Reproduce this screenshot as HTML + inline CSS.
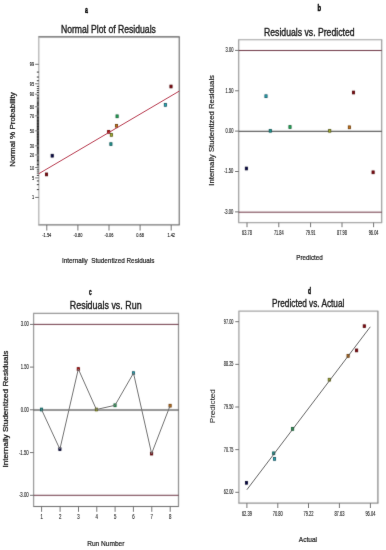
<!DOCTYPE html>
<html><head><meta charset="utf-8"><title>Residual diagnostics</title>
<style>
html,body{margin:0;padding:0;background:#fff;}
body{width:386px;height:550px;overflow:hidden;}
svg{display:block;}
text{font-family:"Liberation Sans",Arial,sans-serif;}
</style></head>
<body>
<svg width="386" height="550" viewBox="0 0 386 550">
<defs><filter id="bl" filterUnits="userSpaceOnUse" x="0" y="0" width="386" height="550" color-interpolation-filters="sRGB"><feConvolveMatrix order="3" kernelMatrix="0.0144 0.0912 0.0144 0.0912 0.5776 0.0912 0.0144 0.0912 0.0144" divisor="1" edgeMode="none" preserveAlpha="false"/></filter>
<filter id="bt" filterUnits="userSpaceOnUse" x="0" y="0" width="386" height="550" color-interpolation-filters="sRGB"><feConvolveMatrix order="3" kernelMatrix="0.0030 0.0440 0.0030 0.0540 0.7920 0.0540 0.0030 0.0440 0.0030" divisor="1" edgeMode="none" preserveAlpha="false"/></filter></defs>
<rect width="386" height="550" fill="#fff"/>
<g filter="url(#bl)">
<line x1="38.30" y1="36.90" x2="179.75" y2="36.90" stroke="#595959" stroke-width="1.2"/>
<line x1="38.30" y1="224.90" x2="179.75" y2="224.90" stroke="#747474" stroke-width="1.2"/>
<line x1="38.80" y1="36.90" x2="38.80" y2="224.90" stroke="#acacac" stroke-width="1.2"/>
<line x1="179.25" y1="36.90" x2="179.25" y2="224.90" stroke="#737373" stroke-width="1.2"/>
<rect x="45.40" y="173.00" width="2.2" height="2.8" fill="#900010" stroke="#480000" stroke-width="0.8"/>
<rect x="51.10" y="154.30" width="2.2" height="2.8" fill="#000050" stroke="#000020" stroke-width="0.8"/>
<rect x="107.60" y="130.40" width="2.2" height="2.8" fill="#c01010" stroke="#600000" stroke-width="0.8"/>
<rect x="110.30" y="133.50" width="2.2" height="2.8" fill="#b0c030" stroke="#505010" stroke-width="0.8"/>
<rect x="109.80" y="142.70" width="2.2" height="2.8" fill="#20a098" stroke="#0a5050" stroke-width="0.8"/>
<rect x="115.40" y="124.40" width="2.2" height="2.8" fill="#e08010" stroke="#603000" stroke-width="0.8"/>
<rect x="116.00" y="114.90" width="2.2" height="2.8" fill="#20c060" stroke="#0a5028" stroke-width="0.8"/>
<rect x="164.30" y="103.50" width="2.2" height="2.8" fill="#20c0c8" stroke="#104858" stroke-width="0.8"/>
<rect x="169.90" y="85.10" width="2.2" height="2.8" fill="#900010" stroke="#480000" stroke-width="0.8"/>
<line x1="238.20" y1="39.75" x2="382.20" y2="39.75" stroke="#9d9d9d" stroke-width="1.2"/>
<line x1="238.20" y1="222.60" x2="382.20" y2="222.60" stroke="#a5a5a5" stroke-width="1.2"/>
<line x1="238.70" y1="39.75" x2="238.70" y2="222.60" stroke="#989898" stroke-width="1.2"/>
<line x1="381.70" y1="39.75" x2="381.70" y2="222.60" stroke="#989898" stroke-width="1.2"/>
<line x1="238.70" y1="50.50" x2="381.70" y2="50.50" stroke="#5a1c2c" stroke-width="0.9"/>
<line x1="238.70" y1="212.20" x2="381.70" y2="212.20" stroke="#5a1c2c" stroke-width="0.9"/>
<line x1="238.70" y1="131.30" x2="381.70" y2="131.30" stroke="#383838" stroke-width="1.0"/>
<rect x="245.30" y="167.10" width="2.2" height="2.8" fill="#000050" stroke="#000020" stroke-width="0.8"/>
<rect x="264.90" y="94.80" width="2.2" height="2.8" fill="#20c0c8" stroke="#104858" stroke-width="0.8"/>
<rect x="269.20" y="129.40" width="2.2" height="2.8" fill="#20a098" stroke="#0a5050" stroke-width="0.8"/>
<rect x="288.90" y="125.60" width="2.2" height="2.8" fill="#20c060" stroke="#0a5028" stroke-width="0.8"/>
<rect x="328.60" y="129.40" width="2.2" height="2.8" fill="#b0c030" stroke="#505010" stroke-width="0.8"/>
<rect x="348.30" y="125.90" width="2.2" height="2.8" fill="#e08010" stroke="#603000" stroke-width="0.8"/>
<rect x="352.40" y="91.10" width="2.2" height="2.8" fill="#900010" stroke="#480000" stroke-width="0.8"/>
<rect x="372.00" y="170.90" width="2.2" height="2.8" fill="#900010" stroke="#480000" stroke-width="0.8"/>
<line x1="33.10" y1="313.40" x2="179.00" y2="313.40" stroke="#969696" stroke-width="1.2"/>
<line x1="33.10" y1="506.50" x2="179.00" y2="506.50" stroke="#696969" stroke-width="1.2"/>
<line x1="33.60" y1="313.40" x2="33.60" y2="506.50" stroke="#979797" stroke-width="1.2"/>
<line x1="178.50" y1="313.40" x2="178.50" y2="506.50" stroke="#8c8c8c" stroke-width="1.2"/>
<line x1="33.60" y1="324.40" x2="178.50" y2="324.40" stroke="#5a1c2c" stroke-width="0.9"/>
<line x1="33.60" y1="495.30" x2="178.50" y2="495.30" stroke="#5a1c2c" stroke-width="0.9"/>
<line x1="33.60" y1="410.00" x2="178.50" y2="410.00" stroke="#2a2a2a" stroke-width="1.0"/>
<rect x="40.40" y="408.10" width="2.2" height="2.8" fill="#20a098" stroke="#0a5050" stroke-width="0.8"/>
<rect x="58.80" y="447.80" width="2.2" height="2.8" fill="#000050" stroke="#000020" stroke-width="0.8"/>
<rect x="77.20" y="367.60" width="2.2" height="2.8" fill="#c01010" stroke="#600000" stroke-width="0.8"/>
<rect x="95.30" y="408.10" width="2.2" height="2.8" fill="#b0c030" stroke="#505010" stroke-width="0.8"/>
<rect x="113.90" y="403.90" width="2.2" height="2.8" fill="#20c060" stroke="#0a5028" stroke-width="0.8"/>
<rect x="132.40" y="371.70" width="2.2" height="2.8" fill="#20c0c8" stroke="#104858" stroke-width="0.8"/>
<rect x="150.50" y="452.20" width="2.2" height="2.8" fill="#900010" stroke="#480000" stroke-width="0.8"/>
<rect x="169.00" y="404.30" width="2.2" height="2.8" fill="#e08010" stroke="#603000" stroke-width="0.8"/>
<line x1="238.40" y1="311.20" x2="378.40" y2="311.20" stroke="#a3a3a3" stroke-width="1.2"/>
<line x1="238.40" y1="503.20" x2="378.40" y2="503.20" stroke="#919191" stroke-width="1.2"/>
<line x1="238.90" y1="311.20" x2="238.90" y2="503.20" stroke="#9a9a9a" stroke-width="1.2"/>
<line x1="377.90" y1="311.20" x2="377.90" y2="503.20" stroke="#828282" stroke-width="1.2"/>
<rect x="245.40" y="481.40" width="2.2" height="2.8" fill="#000050" stroke="#000020" stroke-width="0.8"/>
<rect x="272.60" y="451.90" width="2.2" height="2.8" fill="#20a098" stroke="#0a5050" stroke-width="0.8"/>
<rect x="273.40" y="457.50" width="2.2" height="2.8" fill="#20c0c8" stroke="#104858" stroke-width="0.8"/>
<rect x="291.50" y="427.50" width="2.2" height="2.8" fill="#20c060" stroke="#0a5028" stroke-width="0.8"/>
<rect x="328.20" y="378.30" width="2.2" height="2.8" fill="#b0c030" stroke="#505010" stroke-width="0.8"/>
<rect x="347.00" y="354.50" width="2.2" height="2.8" fill="#e08010" stroke="#603000" stroke-width="0.8"/>
<rect x="355.50" y="349.00" width="2.2" height="2.8" fill="#900010" stroke="#480000" stroke-width="0.8"/>
<rect x="363.20" y="324.80" width="2.2" height="2.8" fill="#900010" stroke="#480000" stroke-width="0.8"/>
</g>
<g filter="url(#bt)">
<text x="86.50" y="13.10" font-size="9.5" text-anchor="middle" fill="#000" stroke="#000" stroke-width="0.5" font-weight="bold" textLength="2.9" lengthAdjust="spacingAndGlyphs">a</text>
<text x="108.40" y="32.60" font-size="10.2" text-anchor="middle" fill="#1a1a1a" stroke="#1a1a1a" stroke-width="0.35" textLength="95.0" lengthAdjust="spacingAndGlyphs">Normal Plot of Residuals</text>
<line x1="35.20" y1="197.41" x2="38.80" y2="197.41" stroke="#696969" stroke-width="0.9"/>
<text x="34.20" y="199.41" font-size="6.0" text-anchor="end" fill="#262626" stroke="#262626" stroke-width="0.15" textLength="2.2" lengthAdjust="spacingAndGlyphs">1</text>
<line x1="36.80" y1="189.61" x2="38.80" y2="189.61" stroke="#0f0f0f" stroke-width="0.8"/>
<line x1="36.80" y1="184.66" x2="38.80" y2="184.66" stroke="#0f0f0f" stroke-width="0.8"/>
<line x1="36.80" y1="180.94" x2="38.80" y2="180.94" stroke="#0f0f0f" stroke-width="0.8"/>
<line x1="35.20" y1="177.91" x2="38.80" y2="177.91" stroke="#696969" stroke-width="0.9"/>
<text x="34.20" y="179.91" font-size="6.0" text-anchor="end" fill="#262626" stroke="#262626" stroke-width="0.15" textLength="2.2" lengthAdjust="spacingAndGlyphs">5</text>
<line x1="36.80" y1="175.33" x2="38.80" y2="175.33" stroke="#0f0f0f" stroke-width="0.8"/>
<line x1="36.80" y1="173.07" x2="38.80" y2="173.07" stroke="#0f0f0f" stroke-width="0.8"/>
<line x1="36.80" y1="171.05" x2="38.80" y2="171.05" stroke="#0f0f0f" stroke-width="0.8"/>
<line x1="36.80" y1="169.21" x2="38.80" y2="169.21" stroke="#0f0f0f" stroke-width="0.8"/>
<line x1="35.20" y1="167.52" x2="38.80" y2="167.52" stroke="#696969" stroke-width="0.9"/>
<text x="34.20" y="169.52" font-size="6.0" text-anchor="end" fill="#262626" stroke="#262626" stroke-width="0.15" textLength="4.4" lengthAdjust="spacingAndGlyphs">10</text>
<line x1="36.80" y1="165.94" x2="38.80" y2="165.94" stroke="#0f0f0f" stroke-width="0.8"/>
<line x1="36.80" y1="164.47" x2="38.80" y2="164.47" stroke="#0f0f0f" stroke-width="0.8"/>
<line x1="36.80" y1="163.08" x2="38.80" y2="163.08" stroke="#0f0f0f" stroke-width="0.8"/>
<line x1="36.80" y1="161.76" x2="38.80" y2="161.76" stroke="#0f0f0f" stroke-width="0.8"/>
<line x1="36.80" y1="160.50" x2="38.80" y2="160.50" stroke="#0f0f0f" stroke-width="0.8"/>
<line x1="36.80" y1="159.30" x2="38.80" y2="159.30" stroke="#0f0f0f" stroke-width="0.8"/>
<line x1="36.80" y1="158.15" x2="38.80" y2="158.15" stroke="#0f0f0f" stroke-width="0.8"/>
<line x1="36.80" y1="157.04" x2="38.80" y2="157.04" stroke="#0f0f0f" stroke-width="0.8"/>
<line x1="36.80" y1="155.97" x2="38.80" y2="155.97" stroke="#0f0f0f" stroke-width="0.8"/>
<line x1="35.20" y1="154.93" x2="38.80" y2="154.93" stroke="#696969" stroke-width="0.9"/>
<text x="34.20" y="156.93" font-size="6.0" text-anchor="end" fill="#262626" stroke="#262626" stroke-width="0.15" textLength="4.4" lengthAdjust="spacingAndGlyphs">20</text>
<line x1="36.80" y1="153.92" x2="38.80" y2="153.92" stroke="#0f0f0f" stroke-width="0.8"/>
<line x1="36.80" y1="152.94" x2="38.80" y2="152.94" stroke="#0f0f0f" stroke-width="0.8"/>
<line x1="36.80" y1="151.99" x2="38.80" y2="151.99" stroke="#0f0f0f" stroke-width="0.8"/>
<line x1="36.80" y1="151.06" x2="38.80" y2="151.06" stroke="#0f0f0f" stroke-width="0.8"/>
<line x1="36.80" y1="150.15" x2="38.80" y2="150.15" stroke="#0f0f0f" stroke-width="0.8"/>
<line x1="36.80" y1="149.26" x2="38.80" y2="149.26" stroke="#0f0f0f" stroke-width="0.8"/>
<line x1="36.80" y1="148.38" x2="38.80" y2="148.38" stroke="#0f0f0f" stroke-width="0.8"/>
<line x1="36.80" y1="147.53" x2="38.80" y2="147.53" stroke="#0f0f0f" stroke-width="0.8"/>
<line x1="36.80" y1="146.68" x2="38.80" y2="146.68" stroke="#0f0f0f" stroke-width="0.8"/>
<line x1="35.20" y1="145.85" x2="38.80" y2="145.85" stroke="#696969" stroke-width="0.9"/>
<text x="34.20" y="147.85" font-size="6.0" text-anchor="end" fill="#262626" stroke="#262626" stroke-width="0.15" textLength="4.4" lengthAdjust="spacingAndGlyphs">30</text>
<line x1="36.80" y1="145.04" x2="38.80" y2="145.04" stroke="#0f0f0f" stroke-width="0.8"/>
<line x1="36.80" y1="144.23" x2="38.80" y2="144.23" stroke="#0f0f0f" stroke-width="0.8"/>
<line x1="36.80" y1="143.44" x2="38.80" y2="143.44" stroke="#0f0f0f" stroke-width="0.8"/>
<line x1="36.80" y1="142.65" x2="38.80" y2="142.65" stroke="#0f0f0f" stroke-width="0.8"/>
<line x1="36.80" y1="141.87" x2="38.80" y2="141.87" stroke="#0f0f0f" stroke-width="0.8"/>
<line x1="36.80" y1="141.11" x2="38.80" y2="141.11" stroke="#0f0f0f" stroke-width="0.8"/>
<line x1="36.80" y1="140.34" x2="38.80" y2="140.34" stroke="#0f0f0f" stroke-width="0.8"/>
<line x1="36.80" y1="139.59" x2="38.80" y2="139.59" stroke="#0f0f0f" stroke-width="0.8"/>
<line x1="36.80" y1="138.84" x2="38.80" y2="138.84" stroke="#0f0f0f" stroke-width="0.8"/>
<line x1="36.80" y1="138.10" x2="38.80" y2="138.10" stroke="#0f0f0f" stroke-width="0.8"/>
<line x1="36.80" y1="137.36" x2="38.80" y2="137.36" stroke="#0f0f0f" stroke-width="0.8"/>
<line x1="36.80" y1="136.63" x2="38.80" y2="136.63" stroke="#0f0f0f" stroke-width="0.8"/>
<line x1="36.80" y1="135.90" x2="38.80" y2="135.90" stroke="#0f0f0f" stroke-width="0.8"/>
<line x1="36.80" y1="135.17" x2="38.80" y2="135.17" stroke="#0f0f0f" stroke-width="0.8"/>
<line x1="36.80" y1="134.45" x2="38.80" y2="134.45" stroke="#0f0f0f" stroke-width="0.8"/>
<line x1="36.80" y1="133.72" x2="38.80" y2="133.72" stroke="#0f0f0f" stroke-width="0.8"/>
<line x1="36.80" y1="133.00" x2="38.80" y2="133.00" stroke="#0f0f0f" stroke-width="0.8"/>
<line x1="36.80" y1="132.28" x2="38.80" y2="132.28" stroke="#0f0f0f" stroke-width="0.8"/>
<line x1="36.80" y1="131.57" x2="38.80" y2="131.57" stroke="#0f0f0f" stroke-width="0.8"/>
<line x1="35.20" y1="130.85" x2="38.80" y2="130.85" stroke="#696969" stroke-width="0.9"/>
<text x="34.20" y="132.85" font-size="6.0" text-anchor="end" fill="#262626" stroke="#262626" stroke-width="0.15" textLength="4.4" lengthAdjust="spacingAndGlyphs">50</text>
<line x1="36.80" y1="130.13" x2="38.80" y2="130.13" stroke="#0f0f0f" stroke-width="0.8"/>
<line x1="36.80" y1="129.42" x2="38.80" y2="129.42" stroke="#0f0f0f" stroke-width="0.8"/>
<line x1="36.80" y1="128.70" x2="38.80" y2="128.70" stroke="#0f0f0f" stroke-width="0.8"/>
<line x1="36.80" y1="127.98" x2="38.80" y2="127.98" stroke="#0f0f0f" stroke-width="0.8"/>
<line x1="36.80" y1="127.25" x2="38.80" y2="127.25" stroke="#0f0f0f" stroke-width="0.8"/>
<line x1="36.80" y1="126.53" x2="38.80" y2="126.53" stroke="#0f0f0f" stroke-width="0.8"/>
<line x1="36.80" y1="125.80" x2="38.80" y2="125.80" stroke="#0f0f0f" stroke-width="0.8"/>
<line x1="36.80" y1="125.07" x2="38.80" y2="125.07" stroke="#0f0f0f" stroke-width="0.8"/>
<line x1="36.80" y1="124.34" x2="38.80" y2="124.34" stroke="#0f0f0f" stroke-width="0.8"/>
<line x1="36.80" y1="123.60" x2="38.80" y2="123.60" stroke="#0f0f0f" stroke-width="0.8"/>
<line x1="36.80" y1="122.86" x2="38.80" y2="122.86" stroke="#0f0f0f" stroke-width="0.8"/>
<line x1="36.80" y1="122.11" x2="38.80" y2="122.11" stroke="#0f0f0f" stroke-width="0.8"/>
<line x1="36.80" y1="121.36" x2="38.80" y2="121.36" stroke="#0f0f0f" stroke-width="0.8"/>
<line x1="36.80" y1="120.59" x2="38.80" y2="120.59" stroke="#0f0f0f" stroke-width="0.8"/>
<line x1="36.80" y1="119.83" x2="38.80" y2="119.83" stroke="#0f0f0f" stroke-width="0.8"/>
<line x1="36.80" y1="119.05" x2="38.80" y2="119.05" stroke="#0f0f0f" stroke-width="0.8"/>
<line x1="36.80" y1="118.26" x2="38.80" y2="118.26" stroke="#0f0f0f" stroke-width="0.8"/>
<line x1="36.80" y1="117.47" x2="38.80" y2="117.47" stroke="#0f0f0f" stroke-width="0.8"/>
<line x1="36.80" y1="116.66" x2="38.80" y2="116.66" stroke="#0f0f0f" stroke-width="0.8"/>
<line x1="35.20" y1="115.85" x2="38.80" y2="115.85" stroke="#696969" stroke-width="0.9"/>
<text x="34.20" y="117.85" font-size="6.0" text-anchor="end" fill="#262626" stroke="#262626" stroke-width="0.15" textLength="4.4" lengthAdjust="spacingAndGlyphs">70</text>
<line x1="36.80" y1="115.02" x2="38.80" y2="115.02" stroke="#0f0f0f" stroke-width="0.8"/>
<line x1="36.80" y1="114.17" x2="38.80" y2="114.17" stroke="#0f0f0f" stroke-width="0.8"/>
<line x1="36.80" y1="113.32" x2="38.80" y2="113.32" stroke="#0f0f0f" stroke-width="0.8"/>
<line x1="36.80" y1="112.44" x2="38.80" y2="112.44" stroke="#0f0f0f" stroke-width="0.8"/>
<line x1="36.80" y1="111.55" x2="38.80" y2="111.55" stroke="#0f0f0f" stroke-width="0.8"/>
<line x1="36.80" y1="110.64" x2="38.80" y2="110.64" stroke="#0f0f0f" stroke-width="0.8"/>
<line x1="36.80" y1="109.71" x2="38.80" y2="109.71" stroke="#0f0f0f" stroke-width="0.8"/>
<line x1="36.80" y1="108.76" x2="38.80" y2="108.76" stroke="#0f0f0f" stroke-width="0.8"/>
<line x1="36.80" y1="107.78" x2="38.80" y2="107.78" stroke="#0f0f0f" stroke-width="0.8"/>
<line x1="35.20" y1="106.77" x2="38.80" y2="106.77" stroke="#696969" stroke-width="0.9"/>
<text x="34.20" y="108.77" font-size="6.0" text-anchor="end" fill="#262626" stroke="#262626" stroke-width="0.15" textLength="4.4" lengthAdjust="spacingAndGlyphs">80</text>
<line x1="36.80" y1="105.73" x2="38.80" y2="105.73" stroke="#0f0f0f" stroke-width="0.8"/>
<line x1="36.80" y1="104.66" x2="38.80" y2="104.66" stroke="#0f0f0f" stroke-width="0.8"/>
<line x1="36.80" y1="103.55" x2="38.80" y2="103.55" stroke="#0f0f0f" stroke-width="0.8"/>
<line x1="36.80" y1="102.40" x2="38.80" y2="102.40" stroke="#0f0f0f" stroke-width="0.8"/>
<line x1="36.80" y1="101.20" x2="38.80" y2="101.20" stroke="#0f0f0f" stroke-width="0.8"/>
<line x1="36.80" y1="99.94" x2="38.80" y2="99.94" stroke="#0f0f0f" stroke-width="0.8"/>
<line x1="36.80" y1="98.62" x2="38.80" y2="98.62" stroke="#0f0f0f" stroke-width="0.8"/>
<line x1="36.80" y1="97.23" x2="38.80" y2="97.23" stroke="#0f0f0f" stroke-width="0.8"/>
<line x1="36.80" y1="95.76" x2="38.80" y2="95.76" stroke="#0f0f0f" stroke-width="0.8"/>
<line x1="35.20" y1="94.18" x2="38.80" y2="94.18" stroke="#696969" stroke-width="0.9"/>
<text x="34.20" y="96.18" font-size="6.0" text-anchor="end" fill="#262626" stroke="#262626" stroke-width="0.15" textLength="4.4" lengthAdjust="spacingAndGlyphs">90</text>
<line x1="36.80" y1="92.49" x2="38.80" y2="92.49" stroke="#0f0f0f" stroke-width="0.8"/>
<line x1="36.80" y1="90.65" x2="38.80" y2="90.65" stroke="#0f0f0f" stroke-width="0.8"/>
<line x1="36.80" y1="88.63" x2="38.80" y2="88.63" stroke="#0f0f0f" stroke-width="0.8"/>
<line x1="36.80" y1="86.37" x2="38.80" y2="86.37" stroke="#0f0f0f" stroke-width="0.8"/>
<line x1="35.20" y1="83.79" x2="38.80" y2="83.79" stroke="#696969" stroke-width="0.9"/>
<text x="34.20" y="85.79" font-size="6.0" text-anchor="end" fill="#262626" stroke="#262626" stroke-width="0.15" textLength="4.4" lengthAdjust="spacingAndGlyphs">95</text>
<line x1="36.80" y1="80.76" x2="38.80" y2="80.76" stroke="#0f0f0f" stroke-width="0.8"/>
<line x1="36.80" y1="77.04" x2="38.80" y2="77.04" stroke="#0f0f0f" stroke-width="0.8"/>
<line x1="36.80" y1="72.09" x2="38.80" y2="72.09" stroke="#0f0f0f" stroke-width="0.8"/>
<line x1="35.20" y1="64.29" x2="38.80" y2="64.29" stroke="#696969" stroke-width="0.9"/>
<text x="34.20" y="66.29" font-size="6.0" text-anchor="end" fill="#262626" stroke="#262626" stroke-width="0.15" textLength="4.4" lengthAdjust="spacingAndGlyphs">99</text>
<line x1="46.80" y1="224.90" x2="46.80" y2="230.50" stroke="#696969" stroke-width="0.9"/>
<text x="46.80" y="237.10" font-size="6.0" text-anchor="middle" fill="#262626" stroke="#262626" stroke-width="0.15" textLength="9.0" lengthAdjust="spacingAndGlyphs">-1.54</text>
<line x1="77.90" y1="224.90" x2="77.90" y2="230.50" stroke="#696969" stroke-width="0.9"/>
<text x="77.90" y="237.10" font-size="6.0" text-anchor="middle" fill="#262626" stroke="#262626" stroke-width="0.15" textLength="9.0" lengthAdjust="spacingAndGlyphs">-0.80</text>
<line x1="109.00" y1="224.90" x2="109.00" y2="230.50" stroke="#696969" stroke-width="0.9"/>
<text x="109.00" y="237.10" font-size="6.0" text-anchor="middle" fill="#262626" stroke="#262626" stroke-width="0.15" textLength="9.0" lengthAdjust="spacingAndGlyphs">-0.06</text>
<line x1="140.10" y1="224.90" x2="140.10" y2="230.50" stroke="#696969" stroke-width="0.9"/>
<text x="140.10" y="237.10" font-size="6.0" text-anchor="middle" fill="#262626" stroke="#262626" stroke-width="0.15" textLength="7.6" lengthAdjust="spacingAndGlyphs">0.68</text>
<line x1="171.20" y1="224.90" x2="171.20" y2="230.50" stroke="#696969" stroke-width="0.9"/>
<text x="171.20" y="237.10" font-size="6.0" text-anchor="middle" fill="#262626" stroke="#262626" stroke-width="0.15" textLength="7.6" lengthAdjust="spacingAndGlyphs">1.42</text>
<line x1="38.80" y1="173.7" x2="179.25" y2="91.1" stroke="#b83c50" stroke-width="1.0"/>
<text transform="translate(14.60,129.60) scale(0.85,1) rotate(-90)" font-size="7.6" text-anchor="middle" fill="#1a1a1a" stroke="#1a1a1a" stroke-width="0.3" textLength="74.5" lengthAdjust="spacingAndGlyphs">Normal % Probability</text>
<text x="108.20" y="263.20" font-size="8.0" text-anchor="middle" fill="#1a1a1a" stroke="#1a1a1a" stroke-width="0.22" textLength="92.4" lengthAdjust="spacingAndGlyphs">Internally&#160; Studentized Residuals</text>
<text x="319.20" y="11.20" font-size="9.5" text-anchor="middle" fill="#000" stroke="#000" stroke-width="0.5" font-weight="bold" textLength="3.6" lengthAdjust="spacingAndGlyphs">b</text>
<text x="309.30" y="35.70" font-size="10.0" text-anchor="middle" fill="#1a1a1a" stroke="#1a1a1a" stroke-width="0.35" textLength="90.5" lengthAdjust="spacingAndGlyphs">Residuals vs. Predicted</text>
<line x1="235.10" y1="50.40" x2="238.70" y2="50.40" stroke="#696969" stroke-width="0.9"/>
<text x="233.40" y="52.20" font-size="6.6" text-anchor="end" fill="#262626" stroke="#262626" stroke-width="0.15" textLength="7.8" lengthAdjust="spacingAndGlyphs">3.00</text>
<line x1="235.10" y1="90.80" x2="238.70" y2="90.80" stroke="#696969" stroke-width="0.9"/>
<text x="233.40" y="92.60" font-size="6.6" text-anchor="end" fill="#262626" stroke="#262626" stroke-width="0.15" textLength="7.8" lengthAdjust="spacingAndGlyphs">1.50</text>
<line x1="235.10" y1="131.10" x2="238.70" y2="131.10" stroke="#696969" stroke-width="0.9"/>
<text x="233.40" y="132.90" font-size="6.6" text-anchor="end" fill="#262626" stroke="#262626" stroke-width="0.15" textLength="7.8" lengthAdjust="spacingAndGlyphs">0.00</text>
<line x1="235.10" y1="171.50" x2="238.70" y2="171.50" stroke="#696969" stroke-width="0.9"/>
<text x="233.40" y="173.30" font-size="6.6" text-anchor="end" fill="#262626" stroke="#262626" stroke-width="0.15" textLength="9.4" lengthAdjust="spacingAndGlyphs">-1.50</text>
<line x1="235.10" y1="211.90" x2="238.70" y2="211.90" stroke="#696969" stroke-width="0.9"/>
<text x="233.40" y="213.70" font-size="6.6" text-anchor="end" fill="#262626" stroke="#262626" stroke-width="0.15" textLength="9.4" lengthAdjust="spacingAndGlyphs">-3.00</text>
<line x1="247.00" y1="222.60" x2="247.00" y2="227.20" stroke="#696969" stroke-width="0.9"/>
<text x="247.00" y="234.50" font-size="6.6" text-anchor="middle" fill="#262626" stroke="#262626" stroke-width="0.15" textLength="9.8" lengthAdjust="spacingAndGlyphs">63.78</text>
<line x1="278.80" y1="222.60" x2="278.80" y2="227.20" stroke="#696969" stroke-width="0.9"/>
<text x="278.80" y="234.50" font-size="6.6" text-anchor="middle" fill="#262626" stroke="#262626" stroke-width="0.15" textLength="9.8" lengthAdjust="spacingAndGlyphs">71.84</text>
<line x1="310.60" y1="222.60" x2="310.60" y2="227.20" stroke="#696969" stroke-width="0.9"/>
<text x="310.60" y="234.50" font-size="6.6" text-anchor="middle" fill="#262626" stroke="#262626" stroke-width="0.15" textLength="9.8" lengthAdjust="spacingAndGlyphs">79.91</text>
<line x1="342.00" y1="222.60" x2="342.00" y2="227.20" stroke="#696969" stroke-width="0.9"/>
<text x="342.00" y="234.50" font-size="6.6" text-anchor="middle" fill="#262626" stroke="#262626" stroke-width="0.15" textLength="9.8" lengthAdjust="spacingAndGlyphs">87.98</text>
<line x1="373.60" y1="222.60" x2="373.60" y2="227.20" stroke="#696969" stroke-width="0.9"/>
<text x="373.60" y="234.50" font-size="6.6" text-anchor="middle" fill="#262626" stroke="#262626" stroke-width="0.15" textLength="9.8" lengthAdjust="spacingAndGlyphs">96.04</text>
<text transform="translate(214.40,130.35) scale(0.85,1) rotate(-90)" font-size="7.6" text-anchor="middle" fill="#1a1a1a" stroke="#1a1a1a" stroke-width="0.2" textLength="110.7" lengthAdjust="spacingAndGlyphs">Internally Studentized Residuals</text>
<text x="309.50" y="259.80" font-size="8.0" text-anchor="middle" fill="#1a1a1a" stroke="#1a1a1a" stroke-width="0.22" textLength="26.5" lengthAdjust="spacingAndGlyphs">Predicted</text>
<text x="90.40" y="294.70" font-size="9.5" text-anchor="middle" fill="#000" stroke="#000" stroke-width="0.5" font-weight="bold" textLength="2.6" lengthAdjust="spacingAndGlyphs">c</text>
<text x="105.70" y="308.80" font-size="10.0" text-anchor="middle" fill="#1a1a1a" stroke="#1a1a1a" stroke-width="0.35" textLength="71.8" lengthAdjust="spacingAndGlyphs">Residuals vs. Run</text>
<line x1="30.00" y1="324.40" x2="33.60" y2="324.40" stroke="#696969" stroke-width="0.9"/>
<text x="28.70" y="326.30" font-size="6.8" text-anchor="end" fill="#262626" stroke="#262626" stroke-width="0.15" textLength="7.9" lengthAdjust="spacingAndGlyphs">3.00</text>
<line x1="30.00" y1="367.10" x2="33.60" y2="367.10" stroke="#696969" stroke-width="0.9"/>
<text x="28.70" y="369.00" font-size="6.8" text-anchor="end" fill="#262626" stroke="#262626" stroke-width="0.15" textLength="7.9" lengthAdjust="spacingAndGlyphs">1.50</text>
<line x1="30.00" y1="409.80" x2="33.60" y2="409.80" stroke="#696969" stroke-width="0.9"/>
<text x="28.70" y="411.70" font-size="6.8" text-anchor="end" fill="#262626" stroke="#262626" stroke-width="0.15" textLength="7.9" lengthAdjust="spacingAndGlyphs">0.00</text>
<line x1="30.00" y1="452.60" x2="33.60" y2="452.60" stroke="#696969" stroke-width="0.9"/>
<text x="28.70" y="454.50" font-size="6.8" text-anchor="end" fill="#262626" stroke="#262626" stroke-width="0.15" textLength="9.8" lengthAdjust="spacingAndGlyphs">-1.50</text>
<line x1="30.00" y1="495.30" x2="33.60" y2="495.30" stroke="#696969" stroke-width="0.9"/>
<text x="28.70" y="497.20" font-size="6.8" text-anchor="end" fill="#262626" stroke="#262626" stroke-width="0.15" textLength="9.8" lengthAdjust="spacingAndGlyphs">-3.00</text>
<line x1="41.60" y1="506.50" x2="41.60" y2="511.80" stroke="#696969" stroke-width="0.9"/>
<text x="41.60" y="518.90" font-size="6.4" text-anchor="middle" fill="#262626" stroke="#262626" stroke-width="0.15" textLength="2.4" lengthAdjust="spacingAndGlyphs">1</text>
<line x1="60.10" y1="506.50" x2="60.10" y2="511.80" stroke="#696969" stroke-width="0.9"/>
<text x="60.10" y="518.90" font-size="6.4" text-anchor="middle" fill="#262626" stroke="#262626" stroke-width="0.15" textLength="2.4" lengthAdjust="spacingAndGlyphs">2</text>
<line x1="78.50" y1="506.50" x2="78.50" y2="511.80" stroke="#696969" stroke-width="0.9"/>
<text x="78.50" y="518.90" font-size="6.4" text-anchor="middle" fill="#262626" stroke="#262626" stroke-width="0.15" textLength="2.4" lengthAdjust="spacingAndGlyphs">3</text>
<line x1="96.80" y1="506.50" x2="96.80" y2="511.80" stroke="#696969" stroke-width="0.9"/>
<text x="96.80" y="518.90" font-size="6.4" text-anchor="middle" fill="#262626" stroke="#262626" stroke-width="0.15" textLength="2.4" lengthAdjust="spacingAndGlyphs">4</text>
<line x1="115.10" y1="506.50" x2="115.10" y2="511.80" stroke="#696969" stroke-width="0.9"/>
<text x="115.10" y="518.90" font-size="6.4" text-anchor="middle" fill="#262626" stroke="#262626" stroke-width="0.15" textLength="2.4" lengthAdjust="spacingAndGlyphs">5</text>
<line x1="133.40" y1="506.50" x2="133.40" y2="511.80" stroke="#696969" stroke-width="0.9"/>
<text x="133.40" y="518.90" font-size="6.4" text-anchor="middle" fill="#262626" stroke="#262626" stroke-width="0.15" textLength="2.4" lengthAdjust="spacingAndGlyphs">6</text>
<line x1="151.80" y1="506.50" x2="151.80" y2="511.80" stroke="#696969" stroke-width="0.9"/>
<text x="151.80" y="518.90" font-size="6.4" text-anchor="middle" fill="#262626" stroke="#262626" stroke-width="0.15" textLength="2.4" lengthAdjust="spacingAndGlyphs">7</text>
<line x1="170.20" y1="506.50" x2="170.20" y2="511.80" stroke="#696969" stroke-width="0.9"/>
<text x="170.20" y="518.90" font-size="6.4" text-anchor="middle" fill="#262626" stroke="#262626" stroke-width="0.15" textLength="2.4" lengthAdjust="spacingAndGlyphs">8</text>
<text transform="translate(8.20,409.10) scale(0.85,1) rotate(-90)" font-size="8.2" text-anchor="middle" fill="#1a1a1a" stroke="#1a1a1a" stroke-width="0.3" textLength="117.0" lengthAdjust="spacingAndGlyphs">Internally Studentized Residuals</text>
<text x="105.80" y="545.90" font-size="8.0" text-anchor="middle" fill="#1a1a1a" stroke="#1a1a1a" stroke-width="0.22" textLength="37.2" lengthAdjust="spacingAndGlyphs">Run Number</text>
<polyline fill="none" stroke="#737373" stroke-width="1.0" points="41.50,409.50 59.90,449.20 78.30,369.00 96.40,409.50 115.00,405.30 133.50,373.10 151.60,453.60 170.10,405.70"/>
<text x="309.50" y="294.40" font-size="9.5" text-anchor="middle" fill="#000" stroke="#000" stroke-width="0.5" font-weight="bold" textLength="3.0" lengthAdjust="spacingAndGlyphs">d</text>
<text x="308.20" y="307.30" font-size="10.0" text-anchor="middle" fill="#1a1a1a" stroke="#1a1a1a" stroke-width="0.35" textLength="72.3" lengthAdjust="spacingAndGlyphs">Predicted vs. Actual</text>
<line x1="235.30" y1="321.70" x2="238.90" y2="321.70" stroke="#696969" stroke-width="0.9"/>
<text x="233.40" y="323.55" font-size="6.8" text-anchor="end" fill="#262626" stroke="#262626" stroke-width="0.15" textLength="9.6" lengthAdjust="spacingAndGlyphs">97.00</text>
<line x1="235.30" y1="364.35" x2="238.90" y2="364.35" stroke="#696969" stroke-width="0.9"/>
<text x="233.40" y="366.20" font-size="6.8" text-anchor="end" fill="#262626" stroke="#262626" stroke-width="0.15" textLength="9.6" lengthAdjust="spacingAndGlyphs">88.25</text>
<line x1="235.30" y1="407.00" x2="238.90" y2="407.00" stroke="#696969" stroke-width="0.9"/>
<text x="233.40" y="408.85" font-size="6.8" text-anchor="end" fill="#262626" stroke="#262626" stroke-width="0.15" textLength="9.6" lengthAdjust="spacingAndGlyphs">79.50</text>
<line x1="235.30" y1="449.65" x2="238.90" y2="449.65" stroke="#696969" stroke-width="0.9"/>
<text x="233.40" y="451.50" font-size="6.8" text-anchor="end" fill="#262626" stroke="#262626" stroke-width="0.15" textLength="9.6" lengthAdjust="spacingAndGlyphs">70.75</text>
<line x1="235.30" y1="492.30" x2="238.90" y2="492.30" stroke="#696969" stroke-width="0.9"/>
<text x="233.40" y="494.15" font-size="6.8" text-anchor="end" fill="#262626" stroke="#262626" stroke-width="0.15" textLength="9.6" lengthAdjust="spacingAndGlyphs">62.00</text>
<line x1="246.90" y1="503.20" x2="246.90" y2="508.00" stroke="#696969" stroke-width="0.9"/>
<text x="246.90" y="515.60" font-size="6.8" text-anchor="middle" fill="#262626" stroke="#262626" stroke-width="0.15" textLength="10.0" lengthAdjust="spacingAndGlyphs">62.39</text>
<line x1="277.80" y1="503.20" x2="277.80" y2="508.00" stroke="#696969" stroke-width="0.9"/>
<text x="277.80" y="515.60" font-size="6.8" text-anchor="middle" fill="#262626" stroke="#262626" stroke-width="0.15" textLength="10.0" lengthAdjust="spacingAndGlyphs">70.80</text>
<line x1="308.50" y1="503.20" x2="308.50" y2="508.00" stroke="#696969" stroke-width="0.9"/>
<text x="308.50" y="515.60" font-size="6.8" text-anchor="middle" fill="#262626" stroke="#262626" stroke-width="0.15" textLength="10.0" lengthAdjust="spacingAndGlyphs">79.22</text>
<line x1="339.40" y1="503.20" x2="339.40" y2="508.00" stroke="#696969" stroke-width="0.9"/>
<text x="339.40" y="515.60" font-size="6.8" text-anchor="middle" fill="#262626" stroke="#262626" stroke-width="0.15" textLength="10.0" lengthAdjust="spacingAndGlyphs">87.63</text>
<line x1="370.40" y1="503.20" x2="370.40" y2="508.00" stroke="#696969" stroke-width="0.9"/>
<text x="370.40" y="515.60" font-size="6.8" text-anchor="middle" fill="#262626" stroke="#262626" stroke-width="0.15" textLength="10.0" lengthAdjust="spacingAndGlyphs">96.04</text>
<line x1="246.90" y1="489.70" x2="370.30" y2="326.80" stroke="#555555" stroke-width="0.9"/>
<text transform="translate(215.00,406.20) scale(0.85,1) rotate(-90)" font-size="8.2" text-anchor="middle" fill="#1a1a1a" stroke="#1a1a1a" stroke-width="0.05" textLength="34.1" lengthAdjust="spacingAndGlyphs">Predicted</text>
<text x="307.90" y="541.80" font-size="8.0" text-anchor="middle" fill="#1a1a1a" stroke="#1a1a1a" stroke-width="0.22" textLength="18.3" lengthAdjust="spacingAndGlyphs">Actual</text>
</g>
</svg>
</body></html>
